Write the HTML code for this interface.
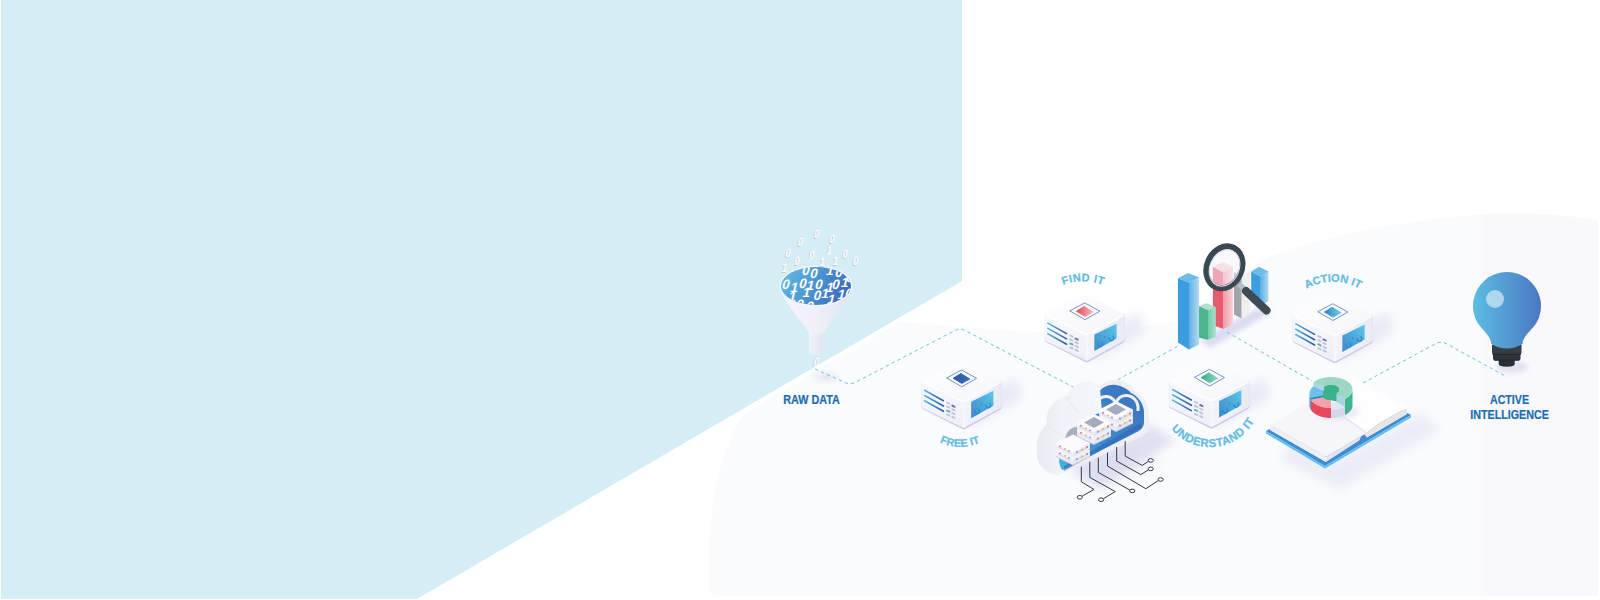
<!DOCTYPE html>
<html><head><meta charset="utf-8">
<style>
html,body{margin:0;padding:0;background:#fff;width:1600px;height:600px;overflow:hidden}
svg{display:block}
text{font-family:"Liberation Sans",sans-serif;font-weight:bold}
</style></head>
<body>
<svg width="1600" height="600" viewBox="0 0 1600 600">
<defs>
  <linearGradient id="gFunnelIn" x1="0" y1="0" x2="1" y2="0.3">
    <stop offset="0" stop-color="#62c1e4"/><stop offset="1" stop-color="#3b6fc2"/>
  </linearGradient>
  <linearGradient id="gCone" x1="0" y1="0" x2="1" y2="0">
    <stop offset="0" stop-color="#f6f7fc"/><stop offset="0.55" stop-color="#eef0f8"/><stop offset="1" stop-color="#dfe2ef"/>
  </linearGradient>
  <linearGradient id="gStripe" x1="0" y1="0" x2="1" y2="0">
    <stop offset="0" stop-color="#5cb9de"/><stop offset="1" stop-color="#2d5aa6"/>
  </linearGradient>
  <linearGradient id="gScreen" x1="1" y1="0" x2="0" y2="1">
    <stop offset="0" stop-color="#5ac8e8"/><stop offset="1" stop-color="#3d88cc"/>
  </linearGradient>
  <linearGradient id="gTop" x1="0" y1="0" x2="1" y2="1">
    <stop offset="0" stop-color="#ffffff"/><stop offset="1" stop-color="#f4f5fb"/>
  </linearGradient>
  <linearGradient id="gLeft" x1="0" y1="0" x2="0" y2="1">
    <stop offset="0" stop-color="#f8f8fd"/><stop offset="1" stop-color="#eeeff7"/>
  </linearGradient>
  <linearGradient id="gRight" x1="0" y1="0" x2="1" y2="0">
    <stop offset="0" stop-color="#f3f4fa"/><stop offset="1" stop-color="#e9eaf4"/>
  </linearGradient>
  <linearGradient id="gRed" x1="0" y1="0" x2="1" y2="0">
    <stop offset="0" stop-color="#e2485a"/><stop offset="1" stop-color="#f6b9c2"/>
  </linearGradient>
  <linearGradient id="gGreen" x1="0" y1="0" x2="1" y2="0">
    <stop offset="0" stop-color="#37a98a"/><stop offset="1" stop-color="#8fd8c0"/>
  </linearGradient>
  <linearGradient id="gBlueSq" x1="0" y1="0" x2="1" y2="0">
    <stop offset="0" stop-color="#2f7fc6"/><stop offset="1" stop-color="#6ed0ea"/>
  </linearGradient>
  <linearGradient id="gNavy" x1="0" y1="0" x2="1" y2="0">
    <stop offset="0" stop-color="#2a55a3"/><stop offset="1" stop-color="#3d6fc0"/>
  </linearGradient>
  <linearGradient id="gBulb" x1="0" y1="0" x2="1" y2="0">
    <stop offset="0" stop-color="#5bbde3"/><stop offset="1" stop-color="#4b77c2"/>
  </linearGradient>
  <radialGradient id="gShadow" cx="0.5" cy="0.5" r="0.5">
    <stop offset="0" stop-color="#c9c9e6" stop-opacity="0.75"/><stop offset="1" stop-color="#d9d9f0" stop-opacity="0"/>
  </radialGradient>
  <linearGradient id="gCloudBlue" x1="0" y1="1" x2="1" y2="0">
    <stop offset="0" stop-color="#44b8de"/><stop offset="0.4" stop-color="#3f8ccc"/><stop offset="1" stop-color="#3a70bd"/>
  </linearGradient>
  <g id="slab1">
    <path d="M-17,0 L0,8.5 L0,14.5 L-17,6 Z" fill="#eeeff7"/>
    <path d="M0,8.5 L17,0 L17,6 L0,14.5 Z" fill="#e4e6f1"/>
    <path d="M-17,0 L0,-8.5 L17,0 L0,8.5 Z" fill="#fbfbfe"/>
    <path d="M-17,0.5 L0,9 L17,0.5" fill="none" stroke="#ffffff" stroke-width="0.8"/>
    <g stroke="#b9bbdc" stroke-width="0.5" fill="none"><path d="M-15,4 L-2,10.5 M2,10.5 L15,4"/></g>
    <circle cx="-13" cy="3.3" r="0.9" fill="#e8606e"/>
    <circle cx="-8" cy="5.8" r="0.9" fill="#f0b040"/>
    <circle cx="-4" cy="7.8" r="0.9" fill="#8c8cc8"/>
    <circle cx="4" cy="9" r="0.9" fill="#8c8cc8"/>
    <circle cx="9" cy="6.5" r="0.9" fill="#f0b040"/>
    <circle cx="14" cy="4" r="0.9" fill="#e8606e"/>
  </g>
  <g id="stack0">
    <path d="M-17,7 L0,15.5 L17,7 L17,14 L0,22.5 L-17,14 Z" fill="#c9cbe4"/>
    <use href="#slab1" x="0" y="7"/>
    <use href="#slab1" x="0" y="0"/>
  </g>
  <g id="stack">
    <path d="M-17,7 L0,15.5 L17,7 L17,14 L0,22.5 L-17,14 Z" fill="#c9cbe4"/>
    <use href="#slab1" x="0" y="7"/>
    <use href="#slab1" x="0" y="0"/>
    <path d="M-10,0 L0,-5.5 L10,0 L0,5.5 Z" fill="#a6abbe"/>
  </g>
  <linearGradient id="gLobe" x1="0" y1="0" x2="1" y2="0">
    <stop offset="0" stop-color="#e8e9f1"/><stop offset="0.35" stop-color="#f1f2f7"/><stop offset="1" stop-color="#f5f6fa"/>
  </linearGradient>
  <linearGradient id="gLobe2" x1="0" y1="0" x2="1" y2="0">
    <stop offset="0" stop-color="#e6e7f0"/><stop offset="1" stop-color="#f4f4fa"/>
  </linearGradient>
  <linearGradient id="gStem" x1="0" y1="0" x2="1" y2="0">
    <stop offset="0" stop-color="#f1f2f9"/><stop offset="1" stop-color="#e1e3ee"/>
  </linearGradient>
  <linearGradient id="gBarB" x1="0" y1="0" x2="1" y2="0"><stop offset="0" stop-color="#5fb0e5"/><stop offset="1" stop-color="#b3dbf2"/></linearGradient>
  <linearGradient id="gBarR" x1="0" y1="0" x2="1" y2="0"><stop offset="0" stop-color="#f19aa6"/><stop offset="1" stop-color="#f8d3d8"/></linearGradient>
  <linearGradient id="gBarG" x1="0" y1="0" x2="1" y2="0"><stop offset="0" stop-color="#74c9ad"/><stop offset="1" stop-color="#a9e0cf"/></linearGradient>
  <clipPath id="cFunnel"><ellipse cx="816" cy="286" rx="35" ry="19"/></clipPath>

  <!-- server box, origin at top-face center -->
  <filter id="fBlur" x="-50%" y="-50%" width="200%" height="200%"><feGaussianBlur stdDeviation="5"/></filter>
  <filter id="fBlur2" x="-50%" y="-50%" width="200%" height="200%"><feGaussianBlur stdDeviation="2.5"/></filter>
  <g id="box">
    <path d="M4,42 L40,4 L56,-2 L60,18 L40,30 L10,46 Z" fill="#dcdcf0" filter="url(#fBlur)" opacity="0.55"/>
    <path d="M-40,2 L2,22 L40,2 L40,26.5 Q40,28 38.5,28.8 L4,47.8 Q2,48.8 0,47.8 L-38.5,28.3 Q-40,27.5 -40,26 Z" fill="#cbcce6"/>
    <path d="M-40,0 L2,20 L2,47 L-38.5,27.3 Q-40,26.5 -40,25 Z" fill="url(#gLeft)"/>
    <path d="M2,20 L40,0 L40,25 Q40,26.5 38.5,27.3 L2,47 Z" fill="url(#gRight)"/>
    <path d="M-37.3,-1.35 L-7.2,-16.4 Q0,-20 7.2,-16.4 L37.3,-1.35 Q40,0 37.35,1.4 L5.5,18.1 Q2,20 -1.6,18.3 L-37.3,1.3 Q-40,0 -37.3,-1.35 Z" fill="url(#gTop)"/>
    <path d="M-39,1.2 L-1.6,19.3 Q2,21 5.5,19.1 L39,1.5" fill="none" stroke="#ffffff" stroke-width="1.3"/>
    <path d="M2,21 L2,46.5" stroke="#f9f9fd" stroke-width="1.5"/>
    <g stroke="url(#gStripe)" stroke-width="1.6" stroke-linecap="round">
      <line x1="-37" y1="9.2" x2="-18.2" y2="19.7"/>
      <line x1="-37" y1="14.5" x2="-18.2" y2="25"/>
      <line x1="-37" y1="19.8" x2="-18.2" y2="30.3"/>
    </g>
    <g stroke="#c0c2de" stroke-width="1.9" stroke-linecap="round">
      <line x1="-14.6" y1="21.5" x2="-12.2" y2="22.7"/>
      <line x1="-14.6" y1="25.5" x2="-12.2" y2="26.7"/>
      <line x1="-14.6" y1="29.5" x2="-12.2" y2="30.7" stroke="#5bba8f"/>
      <line x1="-14.6" y1="33.5" x2="-12.2" y2="34.7"/>
      <line x1="-9.4" y1="24.6" x2="-7" y2="25.8" stroke="#6f70a0"/>
      <line x1="-9.4" y1="28.2" x2="-7" y2="29.4"/>
      <line x1="-9.4" y1="32" x2="-7" y2="33.2"/>
      <line x1="-9.4" y1="35.8" x2="-7" y2="37"/>
    </g>
    <path d="M9.6,20.7 L31.8,9.8 L31.8,24.7 L9.6,37.2 Z" fill="url(#gScreen)"/>
    <g fill="none" stroke="#2f86c9" stroke-width="1.1">
      <path d="M13.5,29.5 a2.3,2.6 0 1 0 3.2,-1.6"/>
      <path d="M24.5,23.5 a2.3,2.6 0 1 0 3.2,-1.6"/>
      <path d="M19.6,22.5 l0.6,1.6"/>
    </g>
    <path d="M-15,-3 L0,-11 L15,-2.7 L0.2,5.8 Z" fill="none" stroke="#3868ae" stroke-width="0.7" stroke-linejoin="round"/>
  </g>
</defs>

<rect x="0" y="0" width="1600" height="600" fill="#ffffff"/>
<!-- lavender blob -->
<path d="M716,596 Q709,594 709,586 C708,540 712,480 728,446 C733,432 738,422 744,414 L899,322 C950,325 1000,331 1050,333 C1100,333 1150,326 1177,321 C1210,300 1235,274 1262,260 C1320,236 1400,220 1499,213 C1540,213 1580,216 1598,221 L1598,596 Z" fill="#fafbfd"/>
<path d="M1483,214 C1530,212.5 1575,215 1598,221 L1598,596 L1483,596 Z" fill="#f9f9fd"/>
<!-- light blue panel -->
<path d="M1,0 L962,0 L962,281 L417,599 L1,599 Z" fill="#d5edf4"/>

<!-- shadows -->
<ellipse cx="826" cy="377" rx="18" ry="9" fill="url(#gShadow)" opacity="0.6"/>
<path d="M1200,340 L1262,306 L1272,312 L1210,348 Z" fill="#d2d3ec" filter="url(#fBlur2)" opacity="0.8"/>
<ellipse cx="1115" cy="460" rx="55" ry="25" fill="url(#gShadow)" opacity="0.5"/>

<!-- dashed lines -->
<g fill="none" stroke="#74c2e2" stroke-width="1" stroke-dasharray="3.5 3">
  <path d="M815,369 L845,382.5 Q850,385 855,382.5 L955,330.5 Q960,328 965,330.5 L1075,388"/>
  <path d="M1112,383 L1178,346"/>
  <path d="M1227,332 L1312,381"/>
  <path d="M1363,383 L1436,343.5 Q1441,341 1446,343.5 L1507,377"/>
</g>

<!-- funnel -->
<g id="funnel">
  <path d="M779.5,287 C786,306 800,318 809.2,333 L809.2,351 Q809.2,355 816.2,355 Q823.3,355 823.3,351 L823.3,333 C832,318 846,306 852.5,287 Z" fill="url(#gCone)"/>
  <path d="M809.2,333 L809.2,351 Q809.2,355 816.2,355 Q823.3,355 823.3,351 L823.3,333 Q816.2,336 809.2,333 Z" fill="url(#gStem)"/>
  <ellipse cx="816" cy="286" rx="36.5" ry="20.5" fill="#f4f5fb"/>
  <ellipse cx="816" cy="286" rx="35" ry="19" fill="url(#gFunnelIn)"/>
  <g clip-path="url(#cFunnel)" fill="#ffffff" font-size="13.5" text-anchor="middle">
    <text transform="translate(783.7,274) skewX(-14)">1</text>
    <text transform="translate(805,275) skewX(-14)">0</text>
    <text transform="translate(813,278) skewX(-14)">0</text>
    <text transform="translate(829,275) skewX(-14)">1</text>
    <text transform="translate(838,277) skewX(-14)">0</text>
    <text transform="translate(849,282) skewX(-14)">0</text>
    <text transform="translate(785,289) skewX(-14)">0</text>
    <text transform="translate(793.5,292) skewX(-14)">1</text>
    <text transform="translate(802,288) skewX(-14)">0</text>
    <text transform="translate(809.6,290) skewX(-14)">1</text>
    <text transform="translate(818,289) skewX(-14)">0</text>
    <text transform="translate(829,292) skewX(-14)">1</text>
    <text transform="translate(835,289) skewX(-14)">0</text>
    <text transform="translate(844,287) skewX(-14)">1</text>
    <text transform="translate(791.5,301) skewX(-14)">1</text>
    <text transform="translate(805.4,297) skewX(-14)">1</text>
    <text transform="translate(816.6,300) skewX(-14)">0</text>
    <text transform="translate(824.3,298) skewX(-14)">1</text>
    <text transform="translate(830.6,304) skewX(-14)">1</text>
    <text transform="translate(840.4,299) skewX(-14)">1</text>
    <text transform="translate(848,298) skewX(-14)">0</text>
    <text transform="translate(799,309) skewX(-14)">0</text>
    <text transform="translate(809,311) skewX(-14)">0</text>
    <text transform="translate(828,311) skewX(-14)">1</text>
    <text transform="translate(838,309) skewX(-14)">0</text>
  </g>
  <g fill="#c3c6d6" font-size="12" text-anchor="middle">
    <text transform="translate(815.2,238.8) skewX(-12) scale(0.75,1)">0</text>
    <text transform="translate(830.5,243.8) skewX(-12) scale(0.75,1)">0</text>
    <text transform="translate(799.0,246.60000000000002) skewX(-12) scale(0.75,1)">0</text>
    <text transform="translate(827.7,254.3) skewX(-12) scale(0.75,1)">1</text>
    <text transform="translate(786.4000000000001,257.8) skewX(-12) scale(0.75,1)">0</text>
    <text transform="translate(810.2,259.2) skewX(-12) scale(0.75,1)">0</text>
    <text transform="translate(843.8000000000001,258.5) skewX(-12) scale(0.75,1)">0</text>
    <text transform="translate(795.5,265.5) skewX(-12) scale(0.75,1)">0</text>
    <text transform="translate(820.7,266.8) skewX(-12) scale(0.75,1)">1</text>
    <text transform="translate(834.0,265.5) skewX(-12) scale(0.75,1)">1</text>
    <text transform="translate(854.2,265.5) skewX(-12) scale(0.75,1)">0</text>
    <text transform="translate(782.9000000000001,272.5) skewX(-12) scale(0.75,1)">1</text>
  </g>
  <g fill="#fcfcff" font-size="12" text-anchor="middle">
    <text transform="translate(816,238.4) skewX(-12) scale(0.75,1)">0</text>
    <text transform="translate(831.3,243.4) skewX(-12) scale(0.75,1)">0</text>
    <text transform="translate(799.8,246.20000000000002) skewX(-12) scale(0.75,1)">0</text>
    <text transform="translate(828.5,253.9) skewX(-12) scale(0.75,1)">1</text>
    <text transform="translate(787.2,257.4) skewX(-12) scale(0.75,1)">0</text>
    <text transform="translate(811,258.8) skewX(-12) scale(0.75,1)">0</text>
    <text transform="translate(844.6,258.09999999999997) skewX(-12) scale(0.75,1)">0</text>
    <text transform="translate(796.3,265.09999999999997) skewX(-12) scale(0.75,1)">0</text>
    <text transform="translate(821.5,266.4) skewX(-12) scale(0.75,1)">1</text>
    <text transform="translate(834.8,265.09999999999997) skewX(-12) scale(0.75,1)">1</text>
    <text transform="translate(855,265.09999999999997) skewX(-12) scale(0.75,1)">0</text>
    <text transform="translate(783.7,272.09999999999997) skewX(-12) scale(0.75,1)">1</text>
    <text transform="translate(815,366) skewX(-12) scale(0.72,1)" font-size="12.5" fill="#c3c6d6">0</text>
    <text transform="translate(815.8,365.5) skewX(-12) scale(0.72,1)" font-size="12.5">0</text>
  </g>

<text x="783.3" y="403.7" font-size="12" fill="#1c6daf" stroke="#1c6daf" stroke-width="0.2" textLength="56.6" lengthAdjust="spacingAndGlyphs">RAW DATA</text>

<!-- boxes -->
<use href="#box" x="961.6" y="381"/>
<use href="#box" x="1084.8" y="313.9"/>
<use href="#box" x="1209.5" y="380.3"/>
<use href="#box" x="1332.8" y="314.7"/>
<g transform="translate(961.6,381)"><path d="M-8.5,-2.7 L-0.7,-7.6 L8.4,-1.9 L0.2,2.5 Z" fill="url(#gNavy)" stroke="url(#gNavy)" stroke-width="0.8" stroke-linejoin="round"/></g>
<g transform="translate(1084.8,313.9)"><path d="M-8.5,-2.7 L-0.7,-7.6 L8.4,-1.9 L0.2,2.5 Z" fill="url(#gRed)" stroke="url(#gRed)" stroke-width="0.8" stroke-linejoin="round"/></g>
<g transform="translate(1209.5,380.3)"><path d="M-8.5,-2.7 L-0.7,-7.6 L8.4,-1.9 L0.2,2.5 Z" fill="url(#gGreen)" stroke="url(#gGreen)" stroke-width="0.8" stroke-linejoin="round"/></g>
<g transform="translate(1332.8,314.7)"><path d="M-8.5,-2.7 L-0.7,-7.6 L8.4,-1.9 L0.2,2.5 Z" fill="url(#gBlueSq)" stroke="url(#gBlueSq)" stroke-width="0.8" stroke-linejoin="round"/></g>

<!-- labels -->
<g fill="#63bce3" font-size="11" stroke="#63bce3" stroke-width="0.25">
  <path id="pFree" d="M910.6,397.4 A49.4,49.4 0 0 0 1009.4,397.4" fill="none" stroke="none"/>
  <text font-size="10.8"><textPath href="#pFree" startOffset="50%" text-anchor="middle">FREE IT</textPath></text>
  <path id="pFind" d="M1028,336.3 A55,55 0 0 1 1138,336.3" fill="none" stroke="none"/>
  <text><textPath href="#pFind" startOffset="50%" text-anchor="middle" textLength="41" lengthAdjust="spacing">FIND IT</textPath></text>
  <path id="pAction" d="M1279,335.75 A54,54 0 0 1 1387,335.75" fill="none" stroke="none"/>
  <text><textPath href="#pAction" startOffset="50%" text-anchor="middle" textLength="55.5" lengthAdjust="spacing">ACTION IT</textPath></text>
  <path id="pUnd" d="M1159,396 A51,51 0 0 0 1261,396" fill="none" stroke="none"/>
  <text font-size="11.5"><textPath href="#pUnd" startOffset="53%" text-anchor="middle" textLength="98" lengthAdjust="spacing">UNDERSTAND IT</textPath></text>
</g>

<!-- bar chart -->
<g id="bars">
  <!-- bar5 blue back right -->
  <path d="M1251.2,271.6 L1260.8,276.4 L1260.8,305.2 L1251.2,302.3 Z" fill="#3a9ee0"/>
  <path d="M1260.8,276.4 L1268.5,271.6 L1268.5,301.3 L1260.8,305.2 Z" fill="url(#gBarB)"/>
  <path d="M1251.2,271.6 L1258.9,266.8 L1268.5,271.6 L1260.8,276.4 Z" fill="#6fbde8"/>
  <!-- bar4 gray/white -->
  <path d="M1234,272 L1241.7,276 L1241.7,318.6 L1234,314.6 Z" fill="#9ea4aa"/>
  <path d="M1241.7,276 L1250,271 L1250,314 L1241.7,318.6 Z" fill="#eef0ef"/>
  <path d="M1234,272 L1242,267.5 L1250,271 L1241.7,276 Z" fill="#f7f8f7"/>
  <!-- bar3 pink -->
  <path d="M1212.9,266.8 L1223.5,272.6 L1223.5,329.1 L1212.9,325.3 Z" fill="#e85a6d"/>
  <path d="M1223.5,272.6 L1233,266.8 L1233,324.3 L1223.5,329.1 Z" fill="url(#gBarR)"/>
  <path d="M1212.9,266.8 L1222.5,262 L1233,266.8 L1223.5,272.6 Z" fill="#f8cdd3"/>
  <!-- bar2 green -->
  <path d="M1199,306 L1208,310 L1208,339.7 L1199,337.7 Z" fill="#4cb58c"/>
  <path d="M1208,310 L1215.8,307 L1215.8,336.8 L1208,339.7 Z" fill="url(#gBarG)"/>
  <path d="M1199,306 L1206.2,303.2 L1215.8,307 L1208,310 Z" fill="#b0e0d0"/>
  <!-- bar1 blue tall -->
  <path d="M1178,278.3 L1189,282.5 L1189,349.6 L1178,342.5 Z" fill="#3a9de0"/>
  <path d="M1189,282.5 L1199.1,277.4 L1199.1,344.4 L1189,349.6 Z" fill="url(#gBarB)"/>
  <path d="M1178,278.3 L1188,273 L1199.1,277.4 L1189,282.5 Z" fill="#6dbce8"/>
  <!-- magnifier -->
  <ellipse cx="1224.4" cy="267.3" rx="15" ry="19.5" transform="rotate(24 1224.4 267.3)" fill="#f4f2fb" fill-opacity="0.5"/>
  <line x1="1239" y1="284" x2="1245" y2="290" stroke="#b9bec4" stroke-width="5.5"/>
  <line x1="1246" y1="291" x2="1266.5" y2="310.5" stroke="#3e4a54" stroke-width="8" stroke-linecap="round"/>
  <ellipse cx="1224.4" cy="267.3" rx="17.3" ry="21.6" transform="rotate(24 1224.4 267.3)" fill="none" stroke="#3b4751" stroke-width="6"/>
  <ellipse cx="1224.8" cy="267.8" rx="14.5" ry="18.8" transform="rotate(24 1224.4 267.3)" fill="none" stroke="#d9dbe6" stroke-width="1.2"/>
</g>

<!-- cloud -->
<g id="cloud">
  <path d="M1070,470 L1150,425 L1175,440 L1100,490 Z" fill="#d9d9ee" filter="url(#fBlur)" opacity="0.8"/>
  <!-- outer silhouette -->
  <path d="M1058,475 C1044,473 1036,463 1037,451 C1036,439 1041,429 1047,424 C1045,410 1055,398 1067,396 C1071,386 1081,381 1091,382 C1095,383 1098,385 1100,387 C1104,381 1114,378 1122,381 C1130,384 1134,388 1136,392 C1144,396 1149,405 1149,414 L1149,424 C1149,430 1146,434 1141,437 Z" fill="#eff0f6"/>
  <!-- window -->
  <path d="M1063,470 C1058,469 1055,463 1057,457 L1076,430 L1096,405 L1098,393 C1102,387 1109,384 1116,385 C1122,386 1128,389 1131,393 C1138,396 1143,403 1144,411 L1144,422 C1144,427 1141,430 1137,432 Z" fill="url(#gCloudBlue)"/>
  <path d="M1097,410 L1097,405 C1097,399 1102,396 1107,396.5 C1112,397 1116,401 1116,406 L1116,409 M1116,405 C1116,399 1121,395 1127,395.5 C1133,396 1138,401 1138,407 L1138,411" fill="none" stroke="#eef0f7" stroke-width="3"/>
  <path d="M1064,466 L1141,423 L1141,428 L1064,471 Z" fill="#2f62ab" opacity="0.55"/>
  <!-- lobes overlay -->
  <path d="M1058,475 C1044,473 1036,463 1037,451 C1036,439 1041,429 1047,424 C1045,410 1055,398 1067,396 C1071,386 1081,381 1091,382 C1095,383 1098,385 1100,388 L1102,412 L1094,415 L1077,423 L1066,438 L1060,456 C1058,462 1060,468 1064,472 Z" fill="url(#gLobe)"/>
  <path d="M1047,424 C1052,430 1058,434 1064,436 M1067,396 C1070,404 1074,410 1080,413" fill="none" stroke="#e9eaf2" stroke-width="1.2"/>
  <path d="M1065,442 C1065,432 1071,426 1079,427 L1088,440 Z" fill="#a9aec0"/>
  <!-- server stacks -->
  <use href="#stack" x="1116" y="409.5"/>
  <use href="#stack" x="1094" y="422.5"/>
  <use href="#stack0" x="1073" y="443"/>
  <!-- circuits -->
  <g fill="none" stroke="#2f3a48" stroke-width="1">
    <path d="M1081.3,466.8 L1081.3,481.7 L1094,489.5 L1082.3,496"/>
    <path d="M1089.8,461.8 L1089.8,477.4 L1115.3,491.6 L1103.6,498.5"/>
    <path d="M1098.3,457.6 L1098.3,472.4 L1129.8,490"/>
    <path d="M1107.5,452.6 L1107.5,466 L1145.8,488.7 L1158.1,480.7"/>
    <path d="M1116.7,447 L1116.7,461.1 L1140.8,474.6 L1148.2,470"/>
    <path d="M1125.2,441.3 L1125.2,456.1 L1142.2,465.4 L1148.2,461.5"/>
  </g>
  <g fill="#ffffff" stroke="#2f3a48" stroke-width="1">
    <ellipse cx="1079.8" cy="497.3" rx="2.6" ry="1.8"/>
    <ellipse cx="1101.1" cy="499.7" rx="2.6" ry="1.8"/>
    <ellipse cx="1132.3" cy="490.9" rx="2.6" ry="1.8"/>
    <ellipse cx="1160.6" cy="479.5" rx="2.6" ry="1.8"/>
    <ellipse cx="1150.7" cy="468.9" rx="2.6" ry="1.8"/>
    <ellipse cx="1150.7" cy="460.4" rx="2.6" ry="1.8"/>
  </g>
</g>

<!-- book -->
<g id="book">
  <path d="M1290,440 L1330,462 L1420,412 L1440,430 L1340,490 L1280,460 Z" fill="#dcdcef" filter="url(#fBlur)" opacity="0.45"/>
  <path d="M1266,431 L1352,383 L1411,415 L1325,466 Z" fill="#3b8ed5"/>
  <path d="M1266,431 L1325,466 L1411,415 L1411,417.5 L1325,468.5 L1266,433.5 Z" fill="#62bdea"/>
  <!-- page sides -->
  <path d="M1270,425 L1326,457 L1366.5,433 L1407,409 L1407,414 L1366,438 Q1363,433 1360,440 L1326,462 L1270,430 Z" fill="#e3e4f0"/>
  <path d="M1270,425 L1326,457 L1326,462 L1270,430 Z" fill="#eeeff7"/>
  <path d="M1366.5,433 C1380,422 1395,414 1407,408 L1407,414 L1366,438 Z" fill="#e6e7e1"/>
  <path d="M1359.5,440.5 Q1363,430 1367,438 L1364,442 Z" fill="#4a89cf"/>
  <!-- left page -->
  <path d="M1270,425 L1311.5,401 C1330,409 1350,420 1366.5,433 L1326,457 Z" fill="#f5f5fa"/>
  <!-- right page -->
  <path d="M1311.5,401 L1352,377 L1407,408 C1395,414 1380,422 1366.5,433 C1350,420 1330,409 1311.5,401 Z" fill="#fefeff"/>
  <path d="M1342,415 C1352,422 1360,427 1366.5,433" fill="none" stroke="#e4e5ef" stroke-width="0.8"/>
</g>
<!-- pie -->
<g id="pie">
  <ellipse cx="1338" cy="412" rx="22" ry="8" fill="#dcdcf0" filter="url(#fBlur2)" opacity="0.5"/>
  <path d="M1352.50,389.50 L1352.49,389.95 L1352.44,390.41 L1352.37,390.86 L1352.27,391.31 L1352.15,391.75 L1351.99,392.20 L1351.81,392.64 L1351.60,393.08 L1351.36,393.51 L1351.09,393.93 L1350.80,394.36 L1350.49,394.77 L1350.14,395.18 L1349.77,395.58 L1349.38,395.97 L1348.96,396.35 L1348.52,396.73 L1348.06,397.09 L1347.57,397.45 L1347.06,397.79 L1346.53,398.12 L1345.98,398.44 L1345.41,398.75 L1344.82,399.05 L1344.82,415.05 L1345.41,414.75 L1345.98,414.44 L1346.53,414.12 L1347.06,413.79 L1347.57,413.45 L1348.06,413.09 L1348.52,412.73 L1348.96,412.35 L1349.38,411.97 L1349.77,411.58 L1350.14,411.18 L1350.49,410.77 L1350.80,410.36 L1351.09,409.93 L1351.36,409.51 L1351.60,409.08 L1351.81,408.64 L1351.99,408.20 L1352.15,407.75 L1352.27,407.31 L1352.37,406.86 L1352.44,406.41 L1352.49,405.95 L1352.50,405.50 Z" fill="#3fb58e"/>
  <path d="M1344.82,407.05 L1344.34,407.28 L1343.84,407.50 L1343.33,407.71 L1342.81,407.92 L1342.29,408.11 L1341.75,408.30 L1341.20,408.48 L1340.65,408.64 L1340.09,408.80 L1339.52,408.95 L1338.94,409.09 L1338.35,409.22 L1337.76,409.34 L1337.17,409.45 L1336.56,409.55 L1335.96,409.63 L1335.35,409.71 L1334.73,409.78 L1334.12,409.84 L1333.50,409.89 L1332.87,409.92 L1332.25,409.95 L1331.63,409.96 L1331.00,409.97 L1331.00,417.97 L1331.63,417.96 L1332.25,417.95 L1332.87,417.92 L1333.50,417.89 L1334.12,417.84 L1334.73,417.78 L1335.35,417.71 L1335.96,417.63 L1336.56,417.55 L1337.17,417.45 L1337.76,417.34 L1338.35,417.22 L1338.94,417.09 L1339.52,416.95 L1340.09,416.80 L1340.65,416.64 L1341.20,416.48 L1341.75,416.30 L1342.29,416.11 L1342.81,415.92 L1343.33,415.71 L1343.84,415.50 L1344.34,415.28 L1344.82,415.05 Z" fill="#d3d6ea"/>
  <path d="M1331.00,407.97 L1329.91,407.95 L1328.81,407.91 L1327.73,407.82 L1326.65,407.71 L1325.59,407.57 L1324.53,407.39 L1323.50,407.19 L1322.48,406.95 L1321.49,406.68 L1320.52,406.39 L1319.58,406.07 L1318.67,405.71 L1317.79,405.34 L1316.94,404.93 L1316.13,404.51 L1315.36,404.06 L1314.63,403.58 L1313.94,403.09 L1313.30,402.58 L1312.70,402.05 L1312.15,401.50 L1311.65,400.93 L1311.20,400.36 L1310.80,399.76 L1310.80,409.76 L1311.20,410.36 L1311.65,410.93 L1312.15,411.50 L1312.70,412.05 L1313.30,412.58 L1313.94,413.09 L1314.63,413.58 L1315.36,414.06 L1316.13,414.51 L1316.94,414.93 L1317.79,415.34 L1318.67,415.71 L1319.58,416.07 L1320.52,416.39 L1321.49,416.68 L1322.48,416.95 L1323.50,417.19 L1324.53,417.39 L1325.59,417.57 L1326.65,417.71 L1327.73,417.82 L1328.81,417.91 L1329.91,417.95 L1331.00,417.97 Z" fill="#e64a5c"/>
  <path d="M1310.80,397.76 L1310.69,397.59 L1310.59,397.42 L1310.50,397.25 L1310.40,397.08 L1310.32,396.90 L1310.23,396.73 L1310.15,396.55 L1310.08,396.38 L1310.01,396.20 L1309.94,396.02 L1309.88,395.84 L1309.83,395.67 L1309.77,395.49 L1309.73,395.31 L1309.68,395.13 L1309.65,394.95 L1309.61,394.77 L1309.58,394.59 L1309.56,394.41 L1309.54,394.23 L1309.52,394.04 L1309.51,393.86 L1309.50,393.68 L1309.50,393.50 L1309.50,405.50 L1309.50,405.68 L1309.51,405.86 L1309.52,406.04 L1309.54,406.23 L1309.56,406.41 L1309.58,406.59 L1309.61,406.77 L1309.65,406.95 L1309.68,407.13 L1309.73,407.31 L1309.77,407.49 L1309.83,407.67 L1309.88,407.84 L1309.94,408.02 L1310.01,408.20 L1310.08,408.38 L1310.15,408.55 L1310.23,408.73 L1310.32,408.90 L1310.40,409.08 L1310.50,409.25 L1310.59,409.42 L1310.69,409.59 L1310.80,409.76 Z" fill="#3a8fd2"/>
  <path d="M1322.50,389.50 L1322.57,388.86 L1322.79,388.22 L1323.15,387.61 L1323.64,387.04 L1324.26,386.50 L1324.99,386.01 L1325.83,385.59 L1326.75,385.23 L1327.75,384.95 L1328.80,384.74 L1329.89,384.61 L1331.00,384.57 L1332.11,384.61 L1333.20,384.74 L1334.25,384.95 L1335.25,385.23 L1336.17,385.59 L1337.01,386.01 L1337.74,386.50 L1338.36,387.04 L1338.85,387.61 L1339.21,388.22 L1339.43,388.86 L1339.50,389.50 L1339.50,405.50 L1339.43,404.86 L1339.21,404.22 L1338.85,403.61 L1338.36,403.04 L1337.74,402.50 L1337.01,402.01 L1336.17,401.59 L1335.25,401.23 L1334.25,400.95 L1333.20,400.74 L1332.11,400.61 L1331.00,400.57 L1329.89,400.61 L1328.80,400.74 L1327.75,400.95 L1326.75,401.23 L1325.83,401.59 L1324.99,402.01 L1324.26,402.50 L1323.64,403.04 L1323.15,403.61 L1322.79,404.22 L1322.57,404.86 L1322.50,405.50 Z" fill="#3cb28b"/>
  <path d="M1310.80,397.76 L1310.52,397.29 L1310.27,396.81 L1310.06,396.33 L1309.88,395.84 L1309.74,395.35 L1309.63,394.86 L1309.55,394.36 L1309.51,393.86 L1309.50,393.36 L1309.53,392.87 L1309.59,392.37 L1309.68,391.87 L1309.81,391.38 L1309.98,390.89 L1310.17,390.40 L1310.40,389.92 L1310.67,389.45 L1310.96,388.98 L1311.29,388.52 L1311.65,388.07 L1312.04,387.62 L1312.46,387.19 L1312.91,386.76 L1313.39,386.35 L1324.04,390.67 L1323.85,390.84 L1323.67,391.00 L1323.50,391.18 L1323.35,391.35 L1323.21,391.53 L1323.08,391.71 L1322.96,391.90 L1322.86,392.09 L1322.77,392.28 L1322.69,392.47 L1322.62,392.66 L1322.57,392.86 L1322.54,393.05 L1322.51,393.25 L1322.50,393.45 L1322.50,393.64 L1322.52,393.84 L1322.55,394.04 L1322.59,394.23 L1322.65,394.43 L1322.72,394.62 L1322.81,394.81 L1322.90,395.00 L1323.01,395.19 Z" fill="#6cc0ea"/>
  <path d="M1324.04,386.67 L1313.39,382.35 L1313.39,386.35 L1324.04,390.67 Z" fill="#a9d6e6"/>
  <path d="M1331.00,407.97 L1329.91,407.95 L1328.81,407.91 L1327.73,407.82 L1326.65,407.71 L1325.59,407.57 L1324.53,407.39 L1323.50,407.19 L1322.48,406.95 L1321.49,406.68 L1320.52,406.39 L1319.58,406.07 L1318.67,405.71 L1317.79,405.34 L1316.94,404.93 L1316.13,404.51 L1315.36,404.06 L1314.63,403.58 L1313.94,403.09 L1313.30,402.58 L1312.70,402.05 L1312.15,401.50 L1311.65,400.93 L1311.20,400.36 L1310.80,399.76 L1323.01,397.19 L1323.17,397.42 L1323.35,397.65 L1323.55,397.87 L1323.77,398.09 L1324.00,398.30 L1324.26,398.50 L1324.53,398.70 L1324.82,398.88 L1325.12,399.06 L1325.44,399.23 L1325.78,399.39 L1326.12,399.54 L1326.49,399.68 L1326.86,399.80 L1327.24,399.92 L1327.63,400.03 L1328.03,400.12 L1328.44,400.20 L1328.86,400.27 L1329.28,400.33 L1329.71,400.37 L1330.14,400.40 L1330.57,400.42 L1331.00,400.43 Z" fill="#f2a2ad"/>
  <path d="M1323.01,395.19 L1310.80,397.76 L1310.80,399.76 L1323.01,397.19 Z" fill="#2f7fc4"/>
  <path d="M1344.82,407.05 L1344.34,407.28 L1343.84,407.50 L1343.33,407.71 L1342.81,407.92 L1342.29,408.11 L1341.75,408.30 L1341.20,408.48 L1340.65,408.64 L1340.09,408.80 L1339.52,408.95 L1338.94,409.09 L1338.35,409.22 L1337.76,409.34 L1337.17,409.45 L1336.56,409.55 L1335.96,409.63 L1335.35,409.71 L1334.73,409.78 L1334.12,409.84 L1333.50,409.89 L1332.87,409.92 L1332.25,409.95 L1331.63,409.96 L1331.00,409.97 L1331.00,402.43 L1331.25,402.43 L1331.49,402.42 L1331.74,402.41 L1331.99,402.40 L1332.23,402.38 L1332.48,402.36 L1332.72,402.33 L1332.96,402.30 L1333.20,402.26 L1333.44,402.22 L1333.67,402.18 L1333.91,402.13 L1334.14,402.08 L1334.37,402.03 L1334.59,401.97 L1334.81,401.91 L1335.03,401.84 L1335.25,401.77 L1335.46,401.70 L1335.67,401.62 L1335.88,401.54 L1336.08,401.45 L1336.27,401.37 L1336.46,401.28 Z" fill="#e3e5f3"/>
  <path d="M1331.00,400.43 L1331.00,407.97 L1331.00,409.97 L1331.00,402.43 Z" fill="#f4c5cc"/>
  <path d="M1336.46,393.28 L1344.82,399.05 L1344.82,407.05 L1336.46,401.28 Z" fill="#a7d4e4"/>
  <path d="M1313.39,382.35 L1315.31,380.98 L1317.54,379.77 L1320.05,378.77 L1322.77,377.98 L1325.66,377.42 L1328.66,377.10 L1331.70,377.04 L1334.73,377.22 L1337.69,377.65 L1340.51,378.32 L1343.14,379.21 L1345.53,380.31 L1347.62,381.59 L1349.38,383.03 L1350.77,384.60 L1351.77,386.27 L1352.35,388.01 L1352.49,389.77 L1352.21,391.53 L1351.50,393.25 L1350.39,394.89 L1348.88,396.43 L1347.01,397.82 L1344.82,399.05 L1336.46,393.28 L1337.33,392.79 L1338.07,392.24 L1338.66,391.63 L1339.11,390.98 L1339.39,390.30 L1339.50,389.61 L1339.44,388.91 L1339.21,388.22 L1338.82,387.56 L1338.27,386.94 L1337.57,386.37 L1336.74,385.87 L1335.80,385.43 L1334.76,385.08 L1333.64,384.81 L1332.48,384.64 L1331.28,384.57 L1330.07,384.60 L1328.89,384.72 L1327.75,384.95 L1326.67,385.26 L1325.68,385.66 L1324.80,386.13 L1324.04,386.67 Z" fill="#9dd6c4"/>
</g>
<!-- bulb -->
<g id="bulb">
  <ellipse cx="1512" cy="367" rx="16" ry="6" fill="#d6d7ee" filter="url(#fBlur2)" opacity="0.7"/>
  <path d="M1492,352 L1492,345 L1521.5,345 L1521.5,352 Q1521.5,354.5 1519,354.5 L1494.5,354.5 Q1492,354.5 1492,352 Z" fill="#363d43"/>
  <path d="M1493,358.5 L1493,354 L1520.5,354 L1520.5,358.5 Q1520.5,360.5 1518,360.5 L1495.5,360.5 Q1493,360.5 1493,358.5 Z" fill="#2e3439"/>
  <path d="M1498.7,364 L1498.7,359.5 L1514.7,359.5 L1514.7,364 Q1514.5,366.8 1506.7,366.8 Q1499,366.8 1498.7,364 Z" fill="#2a3034"/>
  <path d="M1492.5,354.3 L1521,354.3 M1494,360.2 L1519.5,360.2" stroke="#20262a" stroke-width="0.9"/>
  <path d="M1491.3,344 C1491,336 1483,331 1477.6,323 A34,34 0 1 1 1536.4,323 C1531,331 1523,336 1522.5,344 Q1506.9,353 1491.3,344 Z" fill="url(#gBulb)"/>
  <circle cx="1495" cy="299" r="9" fill="#c4e3f2" fill-opacity="0.8"/>
</g>

<text x="1490" y="403.6" font-size="12" fill="#1c6daf" stroke="#1c6daf" stroke-width="0.2" textLength="39" lengthAdjust="spacingAndGlyphs">ACTIVE</text>
<text x="1470.3" y="418.6" font-size="12" fill="#1c6daf" stroke="#1c6daf" stroke-width="0.2" textLength="78.6" lengthAdjust="spacingAndGlyphs">INTELLIGENCE</text>

</svg>
</body></html>
